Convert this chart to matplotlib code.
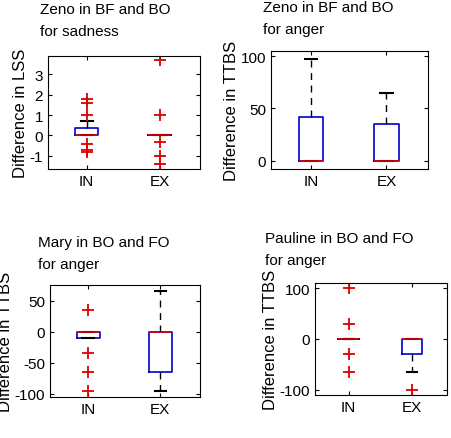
import matplotlib
matplotlib.use("Agg")
import matplotlib.pyplot as plt

plt.rcParams['font.family'] = ['Liberation Sans', 'DejaVu Sans']

cats = ["IN", "EX"]
# panel data: (q1, med, q3, whislo, whishi, outliers)
p1_in = (0, 0, 0.35, 0, 0.7, [1.8, 1.6, 1.0, -0.4, -0.7, -0.8])
p1_ex = (0, 0, 0, 0, 0, [3.7, 1.0, -0.3, -1.0, -1.4])
p2_in = (0, 0, 42, 0, 97, [])
p2_ex = (0, 0, 35, 0, 65, [])
p3_in = (-10, 0, 0, -10, 0, [35, -35, -65, -95])
p3_ex = (-65, 0, 0, -95, 65, [])
p4_in = (0, 0, 0, 0, 0, [100, 30, -30, -65])
p4_ex = (-30, 0, 0, -65, 0, [-100])

panels = [
    dict(data=[p1_in, p1_ex], title="Zeno in BF and BO\nfor sadness", ylabel="Difference in LSS",
         ylim=(-1.65, 3.9), ticks=[-1, 0, 1, 2, 3], rect=[48, 57, 200, 170], tpos=(40, 3)),
    dict(data=[p2_in, p2_ex], title="Zeno in BF and BO\nfor anger", ylabel="Difference in TTBS",
         ylim=(-8, 105), ticks=[0, 50, 100], rect=[271, 52, 428, 170], tpos=(263, 1)),
    dict(data=[p3_in, p3_ex], title="Mary in BO and FO\nfor anger", ylabel="Difference in TTBS",
         ylim=(-105, 75), ticks=[-100, -50, 0, 50], rect=[50, 286, 200, 398], tpos=(38, 236)),
    dict(data=[p4_in, p4_ex], title="Pauline in BO and FO\nfor anger", ylabel="Difference in TTBS",
         ylim=(-110, 110), ticks=[-100, 0, 100], rect=[315, 284, 447, 396], tpos=(265, 232)),
]

W, H = 452, 439
fig = plt.figure(figsize=(W / 100, H / 100), dpi=100)
for p in panels:
    x0, y0, x1, y1 = p["rect"]
    ax = fig.add_axes([x0 / W, 1 - y1 / H, (x1 - x0) / W, (y1 - y0) / H])
    stats = []
    for (q1, med, q3, lo, hi, fl), c in zip(p["data"], cats):
        stats.append(dict(q1=q1, med=med, q3=q3, whislo=lo, whishi=hi, fliers=fl, label=c))
    ax.bxp(stats, widths=0.32, showfliers=True,
           boxprops=dict(color="#0000cc", lw=1.2),
           medianprops=dict(color="#dd0000", lw=1.2),
           whiskerprops=dict(color="black", lw=1, linestyle=(0, (5, 4))),
           capprops=dict(color="black", lw=1.5),
           flierprops=dict(marker="+", markeredgecolor="#dd0000", markersize=9, mew=1.3))
    ax.set_ylim(*p["ylim"])
    ax.set_yticks(p["ticks"])
    ax.set_yticklabels([str(t) for t in p["ticks"]])
    ax.set_xlim(0.47, 2.55)
    ax.tick_params(direction="in", labelsize=11, length=3, right=True, top=True)
    ax.set_ylabel(p["ylabel"], fontsize=12, labelpad=1)
    tx, ty = p["tpos"]
    fig.text(tx / W, 1 - ty / H, p["title"], fontsize=11, ha="left", va="top", linespacing=1.75)
fig.savefig("out.png", dpi=100)
